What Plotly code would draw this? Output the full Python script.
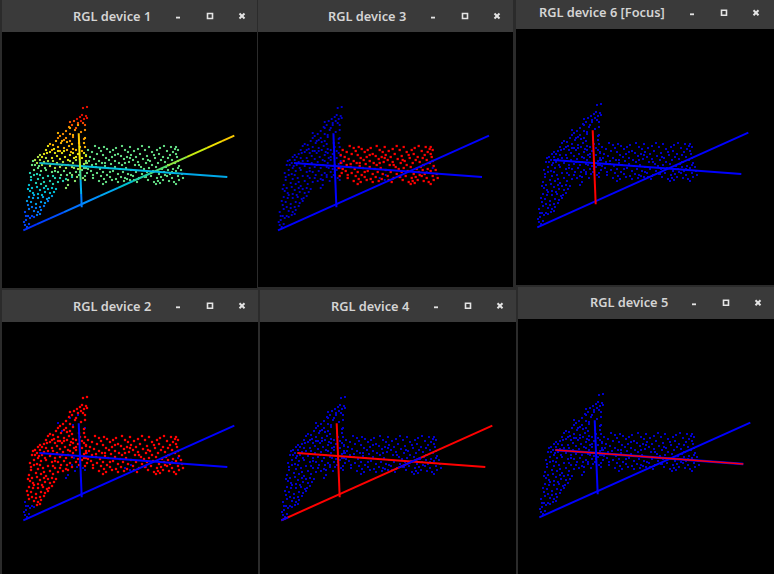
import plotly.graph_objects as go

# ---------- data (device-1 screen units) ----------
red_top = [(87,107),(83,108),(82,115),(86,116),(80,117),(77,119),(87,118),(84,119),(81,121)]
dark_orange = [(83,123),(78,123),(70,122),(72,125),(76,128),(85,125),(74,121)]
orange = [(69,127),(66,131),(75,130),(81,132),(85,130),(70,134),(63,134),(60,136),(66,138),(73,137),(58,138),(64,140),(70,141),(84,139)]
gold = [(56,141),(61,143),(67,142),(72,144),(84,143),(85,147),(53,145),(58,147),(64,148),(69,146),(73,149),(80,147),(50,144),(52,150),(60,151),(67,150),(71,152),(76,150),(82,151),(79,143)]
yellow = [(48,146),(50,152),(55,153),(47,153),(44,154),(57,156),(62,153),(65,157),(70,155),(74,158),(78,154),(84,153),(86,156),(42,157),(52,158),(60,159),(68,160),(82,158),(73,153),(58,151),(46,150),(54,149),(76,157),(64,151)]
lime = [(40,155),(38,157),(40,160),(44,162),(48,161),(53,161),(57,163),(63,162),(68,165),(73,163),(76,160),(80,165),(37,163),(42,165),(50,166),(55,168),(60,167),(66,168),(72,167),(78,169),(84,164),(86,161),(46,158),(51,164),(70,161),(62,165),(35,160)]
green = [(33,161),(35,165),(38,168),(32,165),(34,170),(41,171),(46,170),(52,172),(58,172),(64,171),(70,173),(76,172),(82,170),(86,168),(45,168),(61,175),(39,166),(55,171),(67,175),(79,175)]
teal = [(34,175),(40,175),(43,178),(48,176),(53,176),(38,179),(44,182),(50,181),(55,178),(60,178),(66,179),(72,177),(36,183),(41,184),(46,186),(53,184),(58,182),(63,181),(68,180),(37,174),(30,173),(31,177)]
cyan = [(31,180),(29,185),(32,188),(37,187),(40,190),(44,188),(48,189),(52,188),(54,192),(50,193),(30,191),(33,193),(38,194),(42,195),(45,192),(28,189),(56,189)]
sky = [(29,197),(33,198),(38,198),(43,197),(47,199),(27,201),(31,202),(36,204),(41,202),(45,203),(49,198),(34,195),(52,196)]
azure = [(28,205),(32,207),(36,208),(40,207),(34,211),(38,212),(29,209),(41,210),(37,215),(40,214),(44,206),(48,201)]
blue_tip = [(25,212),(26,216),(28,216),(32,216),(30,218),(26,220),(24,222),(29,224),(25,225),(27,227),(34,217)]
under_upper = [(78,125),(70,128),(73,135),(58,133),(85,138),(62,141)]
under_lower = [(72,175),(68,180),(77,177),(83,178),(68,185),(87,163),(85,180),(80,172),(74,168),(75,181),(66,188)]
right_wing = [
    (95,146),(99,148),(104,147),(116,148),(122,146),(130,147),(138,149),(142,146),(149,147),(160,148),(164,146),(171,147),(175,149),
    (88,150),(92,152),(101,151),(107,149),(110,152),(113,150),(125,150),(128,152),(134,151),(145,150),(152,152),(157,150),(167,151),(173,152),(176,147),
    (86,155),(90,157),(97,154),(103,155),(106,158),(118,154),(121,156),(131,155),(136,157),(140,154),(147,156),(154,155),(159,154),(163,157),(170,155),(176,154),
    (94,159),(99,161),(109,160),(112,157),(115,161),(124,159),(127,157),(133,160),(143,159),(150,161),(155,158),(161,160),(168,158),(172,160),(177,157),
    (86,163),(89,161),(92,165),(102,163),(105,166),(111,164),(119,163),(122,165),(129,162),(135,165),(138,162),(146,163),(152,165),(158,163),(165,162),(169,165),(175,163),(178,161),
    (84,168),(88,169),(96,167),(100,169),(108,168),(115,167),(126,168),(131,170),(141,167),(144,169),(149,168),(156,167),(162,169),(166,167),(173,169),(179,166),
    (87,173),(91,171),(97,173),(103,172),(107,175),(113,171),(118,174),(123,172),(128,174),(136,172),(142,174),(147,172),(153,171),(159,174),(164,172),(170,174),(176,171),(181,170),
    (85,176),(93,178),(101,176),(104,179),(110,177),(116,179),(121,177),(127,179),(133,176),(139,178),(145,177),(151,176),(157,178),(161,177),(167,176),(172,178),(178,176),(182,174),
    (99,181),(106,182),(112,180),(118,182),(124,181),(134,180),(137,182),(148,180),(154,182),(158,181),(163,180),(169,181),(174,182),(179,180),(183,178),(156,184),(160,183),(103,184),(176,184),
    (96,164),(110,172),(120,169),(139,165),(148,160),(165,175),(93,175),(125,163),(105,163),(178,150),(168,170),(130,158),(115,155),
]
right_under = [(125,178),(130,180),(138,179),(146,177),(168,165),(172,172),(175,163),(131,175),(178,168)]

# axis lines: stops along each line with their device-1 colours
long_x = [23.3,37,50,64,82,100,118,133,150,167,187,207,222,234.3]
long_y = [230.3,224.2,218.3,212.1,204,195.9,187.8,181,173.5,165.9,156.9,147.9,141.2,135.7]
long_c = ["#0030ff","#0040ff","#0050ff","#0070ff","#0090ff","#00a8f0","#00c0d0","#20d0a8","#50e070","#90e840","#c8ec10","#f0e000","#f8c800","#ffb000"]
cross_x = [39.3,80,130,180,227.3]
cross_y = [163,166,169.8,173.5,177]
cross_c = ["#10b8c8","#00c0e0","#00b8e8","#00a8e8","#0098e8"]
vert_x = [78.7,79.2,79.8,80.2,80.6,81.2,81.7]
vert_y = [133.3,146,160,170,180,194,207.3]
vert_c = ["#ffc800","#f8ec00","#a8ec30","#40d890","#00b0f0","#0080ff","#0050ff"]
patch_x = [[23.3,30],[140,163]]
patch_y = [[230.3,227.3],[177.9,167.7]]

titles = ["RGL device 1","RGL device 3","RGL device 6 [Focus]","RGL device 2","RGL device 4","RGL device 5"]

# ---------- colour of each point group per style ----------
B, R = "#0000d8", "#ff0000"
groups = [
    (right_wing,  "#5fd67f", R, R),
    (right_under, "#5fd67f", B, B),
    (blue_tip,    "#0040ee", B, B),
    (azure,       "#0070ee", R, B),
    (sky,         "#0098e0", R, B),
    (cyan,        "#00b8cc", R, B),
    (teal,        "#20ccb0", R, B),
    (green,       "#66dd80", R, B),
    (lime,        "#aadd44", R, B),
    (yellow,      "#dddd10", R, B),
    (gold,        "#eeaa00", R, B),
    (orange,      "#ee8800", R, B),
    (dark_orange, "#ee4c00", R, B),
    (red_top,     "#dd1100", R, B),
    (under_upper, "#eeaa00", B, B),
    (under_lower, "#88dd66", B, B),
]

panels = [
    dict(t=0, box=(2,32,257,288),   off=(0,0),     tc=(112,15.5),  bar=(2,0,257,32),     btn=(178,210,242,16),  mode=1, ax=None),
    dict(t=1, box=(258,32,513,287), off=(254.7,0), tc=(367,15.5),  bar=(258,0,513,32),   btn=(433,465,497,16),  mode=3, ax=("#0000ff","#0000ff","#0000ff")),
    dict(t=2, box=(516,29,774,285), off=(514,-3),  tc=(602,12.5),  bar=(516,0,774,29),   btn=(692,724,756,12.7),mode=0, ax=("#0000ff","#0000ff","#ff0000")),
    dict(t=3, box=(2,322,258,574),  off=(0,290),   tc=(112,305.5), bar=(2,290,258,322),  btn=(178,210,242,305.7),mode=2, ax=("#0000ff","#0000ff","#0000ff")),
    dict(t=4, box=(260,322,516,574),off=(258,290), tc=(370,305.5), bar=(260,290,516,322),btn=(436,468,500,305.7),mode=0, ax=("#ff0000","#ff0000","#ff0000")),
    dict(t=5, box=(518,319,774,574),off=(516,287), tc=(628.5,302.5),bar=(518,287,774,319),btn=(694,726,758,302.7),mode=0, ax=("#0000ff","both","#0000ff")),
]

W, H = 774, 574
px = lambda x: x / W
py = lambda y: 1 - y / H

fig = go.Figure()
layout = {}
shapes, annos = [], []
ICON = "#e4e4e4"

for i, p in enumerate(panels):
    n = "" if i == 0 else str(i + 1)
    x0, y0, x1, y1 = p["box"]
    dx, dy = p["off"]
    layout["xaxis" + n] = dict(domain=[px(x0), px(x1)], range=[x0 - dx, x1 - dx], visible=False,
                               anchor="y" + n, fixedrange=True)
    layout["yaxis" + n] = dict(domain=[py(y1), py(y0)], range=[y1 - dy, y0 - dy], visible=False,
                               anchor="x" + n, fixedrange=True)
    classes = {1.9: ([], [], []), 2.1: ([], [], []), 2.25: ([], [], [])}
    for g in groups:
        col = {1: g[1], 2: g[2], 3: g[3], 0: B}[p["mode"]]
        if p["mode"] == 3:
            col = R if g[0] is right_wing else B
        size = 2.25 if col == R else (1.9 if col == B else 2.1)
        for (a, b) in g[0]:
            classes[size][0].append(a); classes[size][1].append(b); classes[size][2].append(col)
    for size, (xs, ys, cs) in classes.items():
        if xs:
            fig.add_trace(go.Scatter(x=xs, y=ys, mode="markers", xaxis="x" + n, yaxis="y" + n, hoverinfo="skip",
                                     marker=dict(symbol="square", size=size, color=cs, line=dict(width=0))))
    lines = [(long_x, long_y, long_c), (cross_x, cross_y, cross_c), (vert_x, vert_y, vert_c)]
    for k, (lx, ly, lc) in enumerate(lines):
        if p["ax"] is None:
            for j in range(len(lx) - 1):
                fig.add_trace(go.Scatter(x=lx[j:j+2], y=ly[j:j+2], mode="lines", xaxis="x" + n, yaxis="y" + n,
                                         hoverinfo="skip", line=dict(color=lc[j], width=2)))
        elif p["ax"][k] == "both":
            fig.add_trace(go.Scatter(x=lx, y=ly, mode="lines", xaxis="x" + n, yaxis="y" + n, hoverinfo="skip",
                                     line=dict(color="#0000ff", width=2.6)))
            fig.add_trace(go.Scatter(x=lx, y=ly, mode="lines", xaxis="x" + n, yaxis="y" + n, hoverinfo="skip",
                                     line=dict(color="#ff0000", width=1.6)))
        else:
            fig.add_trace(go.Scatter(x=lx, y=ly, mode="lines", xaxis="x" + n, yaxis="y" + n, hoverinfo="skip",
                                     line=dict(color=p["ax"][k], width=2)))
    if p["t"] == 4:
        for hx, hy in zip(patch_x, patch_y):
            fig.add_trace(go.Scatter(x=hx, y=hy, mode="lines", xaxis="x" + n, yaxis="y" + n, hoverinfo="skip",
                                     line=dict(color="#0000ff", width=2)))
    # window chrome
    bx0, by0, bx1, by1 = p["bar"]
    shapes.append(dict(type="rect", xref="paper", yref="paper", x0=px(bx0), x1=px(bx1), y0=py(by1), y1=py(by0),
                       fillcolor="#3a3a3a", line_width=0, layer="below"))
    annos.append(dict(text=titles[p["t"]], xref="paper", yref="paper", x=px(p["tc"][0]), y=py(p["tc"][1]),
                      showarrow=False, xanchor="center", yanchor="middle",
                      font=dict(family="Noto Sans, Open Sans", size=12.8, color="#d4d4d4", weight=600)))
    m, s, c, yb = p["btn"]
    shapes.append(dict(type="rect", xref="paper", yref="paper", x0=px(m-2), x1=px(m+2), y0=py(yb+2.5), y1=py(yb+0.7),
                       fillcolor=ICON, line_width=0))
    shapes.append(dict(type="rect", xref="paper", yref="paper", x0=px(s-2.5), x1=px(s+2.5), y0=py(yb+2.5), y1=py(yb-2.5),
                       fillcolor="rgba(0,0,0,0)", line=dict(color=ICON, width=1.6)))
    for sgn in (1, -1):
        shapes.append(dict(type="line", xref="paper", yref="paper", x0=px(c-2.5), x1=px(c+2.5),
                           y0=py(yb+2.5*sgn), y1=py(yb-2.5*sgn), line=dict(color=ICON, width=2)))

fig.update_layout(width=W, height=H, margin=dict(l=0, r=0, t=0, b=0), showlegend=False,
                  paper_bgcolor="#2b2b2b", plot_bgcolor="#000000", shapes=shapes, annotations=annos, **layout)
fig.write_html("out.html", config={"displayModeBar": False},
               post_script="document.body.style.margin='0';document.body.style.overflow='hidden';")
